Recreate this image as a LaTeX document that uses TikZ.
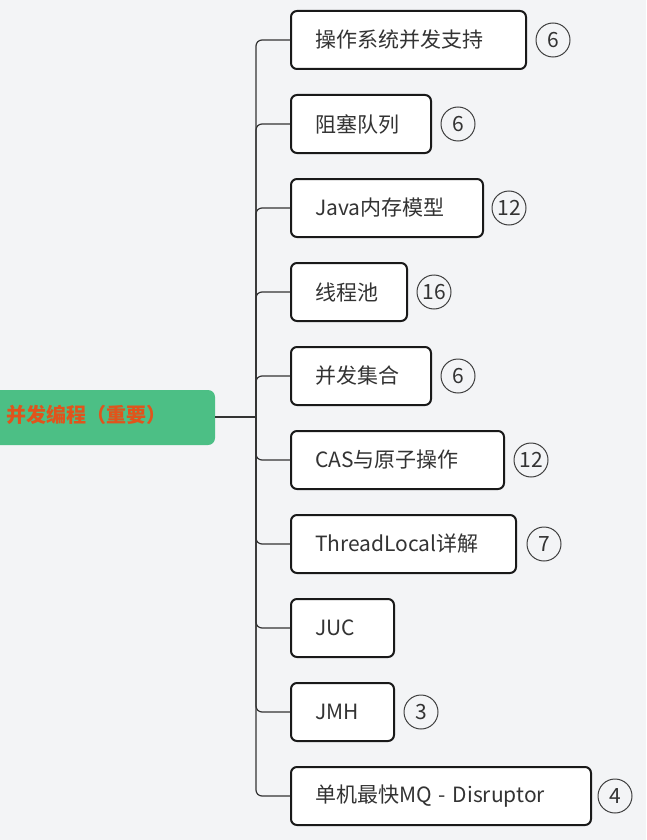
\documentclass[tikz,border=0pt]{standalone}
\usepackage{fontspec}
\setmainfont{Noto Sans CJK SC}
\definecolor{bg}{HTML}{F3F4F6}
\definecolor{rootg}{HTML}{4CBF85}
\definecolor{roott}{HTML}{E0541C}
\definecolor{ln}{HTML}{333333}
\begin{document}
\begin{tikzpicture}[x=1pt,y=-1pt,
  leaf/.style={draw=black!90,line width=2pt,rounded corners=6pt,fill=white,minimum height=58pt,anchor=west,inner xsep=24pt,font=\fontsize{21}{24}\selectfont,text=black!80},
  cnt/.style={draw=black!75,line width=1pt,circle,minimum size=34pt,inner sep=0pt,font=\fontsize{21}{24}\selectfont,text=black!80},
  conn/.style={draw=ln,line width=1.2pt,rounded corners=6pt}]
\fill[bg] (0,0) rectangle (646,840);
\useasboundingbox (0,0) rectangle (646,840);
\fill[rootg,rounded corners=7pt] (-10,390) rectangle (215,445);
\node[font=\fontsize{20}{24}\selectfont\bfseries,text=roott,anchor=west] (root) at (3,415) {并发编程（重要）};
\coordinate (rr) at (215,417);
\coordinate (sp) at (256,417);
\draw[conn] (rr) -- (sp);
\foreach \i/\t/\w/\n/\cx in {
 1/操作系统并发支持/235/6/553,
 2/阻塞队列/140/6/458,
 3/Java内存模型/192/12/509,
 4/线程池/116/16/434,
 5/并发集合/140/6/458,
 6/CAS与原子操作/213/12/531,
 7/ThreadLocal详解/225/7/544,
 8/JUC/103//0,
 9/JMH/103/3/421,
 10/单机最快MQ - Disruptor/300/4/615}{
  \pgfmathsetmacro\yy{40+84*(\i-1)}
  \node[leaf,minimum width=\w pt,text width={\w pt-48pt},align=left] (b\i) at (290,\yy) {\t};
  \draw[conn] (sp) |- (b\i.west);
  \ifx\n\empty\else\node[cnt] (c\i) at (\cx,\yy) {\n};\fi
}
\end{tikzpicture}
\end{document}
